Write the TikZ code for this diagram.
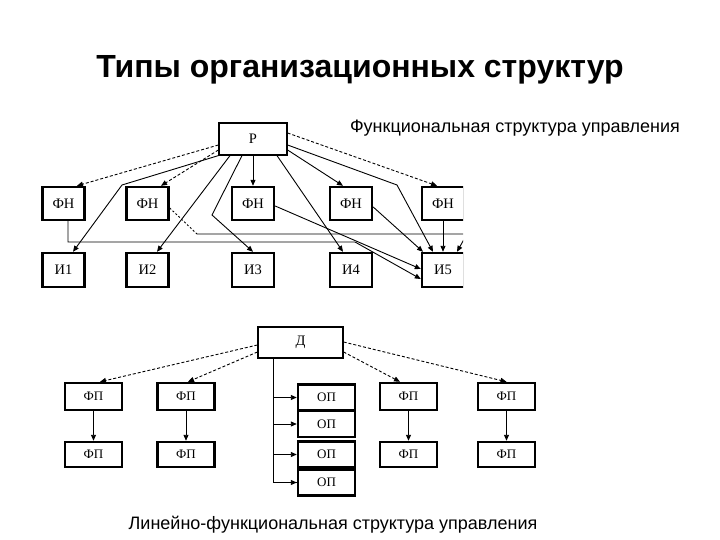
\documentclass[tikz,border=0pt]{standalone}
\usepackage{fontspec}
\setmainfont{Liberation Serif}
\newfontfamily\headfont{Liberation Sans}
\usetikzlibrary{arrows.meta}

\begin{document}
\begin{tikzpicture}[x=1pt, y=-1pt,
   box/.style={rectangle, draw=black, line width=2.4pt, inner sep=0pt,
               font=\fontsize{14.5}{14.5}\selectfont},
   boss/.style={box, line width=1.2pt},
   small/.style={font=\fontsize{13}{13}\selectfont},
   link/.style={draw=black, line width=0.9pt, -{Triangle[length=6pt,width=5pt]}},
   dlink/.style={link, dash pattern=on 3pt off 2pt},
   heading/.style={font=\headfont\fontsize{18}{21}\selectfont}]

\useasboundingbox (0,0) rectangle (720,540);

\node[font=\headfont\bfseries\fontsize{32}{36}\selectfont] (title) at (360,70)
     {Типы организационных структур};
\node[heading] (capF) at (515,128) {Функциональная структура управления};
\node[heading] (capL) at (333,525) {Линейно-функциональная структура управления};

% functional structure
\begin{scope}
  \clip (0,100) rectangle (463,300);
  \node[boss, minimum width=68pt, minimum height=32pt] (R) at (253,139) {Р};
  \foreach \n/\x in {1/63.5, 2/147.5, 3/253, 4/351, 5/443} {
    \node[box, minimum width=42pt, minimum height=33pt] (FN\n) at (\x,203.5) {ФН};
    \node[box, minimum width=42pt, minimum height=34pt] (I\n) at (\x,270) {И\n};
  }
  \draw[dlink] ([yshift=-6pt]R.west) -- ([xshift=13.5pt]FN1.north);
  \draw[dlink] ([yshift=-11pt]R.west) -- ([xshift=13.5pt]FN2.north);
  \draw[link] (R.south west) -- (122,185) -- ([xshift=9.5pt]I1.north);
  \draw[link] ([xshift=-23pt]R.south) -- ([xshift=9.5pt]I2.north);
  \draw[link] ([xshift=-11pt]R.south) -- (212,215) -- (I3.north);
  \draw[link] (R.south) -- (FN3.north);
  \draw[link] ([xshift=24pt]R.south) -- ([xshift=-8pt]I4.north);
  \draw[link] ([yshift=-11pt]R.east) -- ([xshift=-8pt]FN4.north);
  \draw[dlink] ([yshift=6pt]R.east) -- ([xshift=-6pt]FN5.north);
  \draw[link] ([yshift=-6pt]R.east) -- (397,185) -- ([xshift=-10pt]I5.north);
  \draw[link] ([xshift=4.5pt]FN1.south) -- (68,242) -- (355,242)
              -- ([yshift=-9pt]I5.west);
  \draw[dash pattern=on 2pt off 2pt, line width=0.9pt] ([yshift=-4.5pt]FN2.east) -- (197,234);
  \draw[link] (197,234) -- (467,234) -- ([xshift=14pt]I5.north);
  \draw[link] ([yshift=-2.5pt]FN3.east) -- ([yshift=1pt]I5.west);
  \draw[link] ([yshift=-3.5pt]FN4.east) -- ([xshift=-20pt]I5.north);
  \draw[link] (FN5.south) -- (I5.north);
\end{scope}

% line-functional structure
\node[boss, minimum width=85pt, minimum height=31pt] (D) at (300.5,342.5) {Д};
\foreach \n/\x in {1/93.5, 2/186, 3/408.5, 4/506.5} {
  \node[box, small, minimum width=57pt, minimum height=27pt] (FP\n) at (\x,396.5) {ФП};
  \node[box, small, minimum width=57pt, minimum height=25pt] (FQ\n) at (\x,454.5) {ФП};
  \draw[link] (FP\n) -- (FQ\n);
}
\foreach \n/\y in {1/397.5, 2/424, 3/454.5, 4/482.5} {
  \node[box, small, minimum width=57pt, minimum height=26pt] (OP\n) at (326.5,\y) {ОП};
}
\coordinate (trunk) at ([xshift=-27.5pt]D.south);
\draw[line width=0.9pt] (trunk) |- (OP4.west);
\foreach \n in {1,2,3,4} {
  \draw[link] (trunk |- OP\n.west) -- (OP\n.west);
}
\draw[dlink] ([yshift=-2.5pt]D.west) -- ([xshift=6.5pt]FP1.north);
\draw[dlink] ([yshift=-9.5pt]D.west) -- ([xshift=2pt]FP2.north);
\draw[dlink] ([yshift=-9.5pt]D.east) -- ([xshift=-8.5pt]FP3.north);
\draw[dlink] ([yshift=0.5pt]D.east) -- (FP4.north);
\end{tikzpicture}
\end{document}
